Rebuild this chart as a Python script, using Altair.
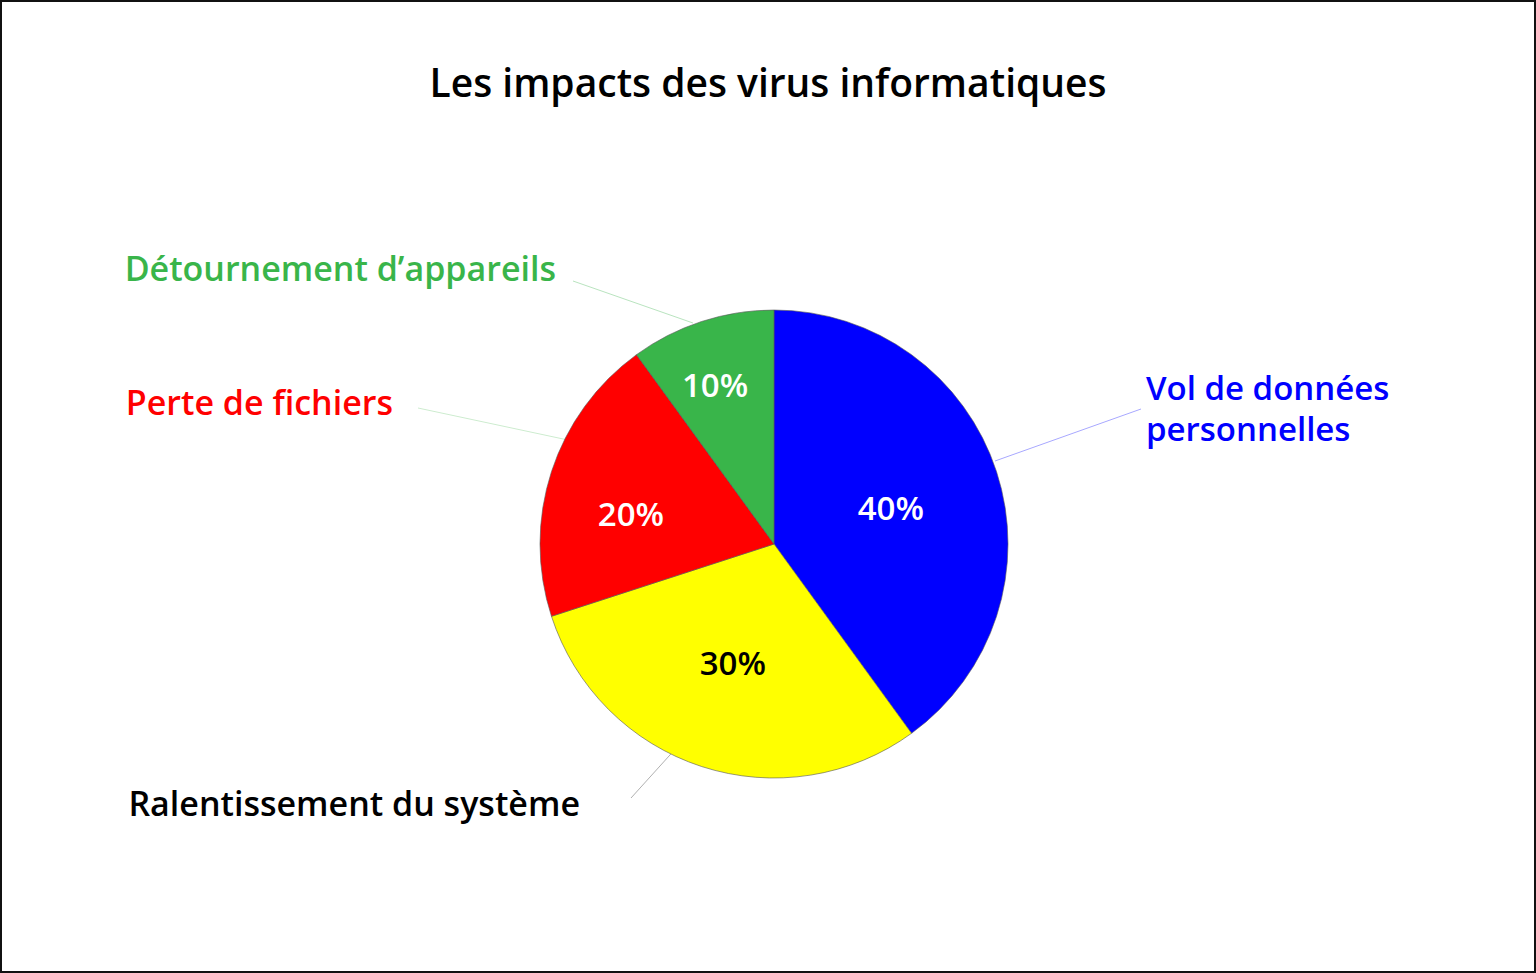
import altair as alt
import pandas as pd

# ---- data ----
categories = ["Vol de données personnelles", "Ralentissement du système",
              "Perte de fichiers", "Détournement d’appareils"]
values = [40, 30, 20, 10]
pct_labels = ["40%", "30%", "20%", "10%"]

# ---- styles / layout ----
slice_colors = ["#0000FF", "#FFFF00", "#FF0000", "#39B54A"]
pct_colors = ["#FFFFFF", "#000000", "#FFFFFF", "#FFFFFF"]
pct_radius = [122, 127, 146, 169]          # label distance from centre (px)
pct_nudge_deg = [1.3, 0.9, -6.5, -2.4]     # small angular nudges of the labels
FONT = "Open Sans"
CX, CY, R = 774, 544, 234

df = pd.DataFrame({
    "category": categories,
    "value": values,
    "order": list(range(len(values))),
    "pct": pct_labels,
    "pct_color": pct_colors,
    "lr": pct_radius,
    "nudge": pct_nudge_deg,
})

# outside labels (layout)
left_labels = pd.DataFrame({
    "text": ["Détournement d’appareils", "Perte de fichiers", "Ralentissement du système"],
    "x": [556, 393, 580],
    "y": [271, 405, 806],
    "color": ["#39B54A", "#FF0000", "#000000"],
})
right_labels = pd.DataFrame({
    "text": [["Vol de données", "personnelles"]],
    "x": [1146],
    "y": [390],
    "color": ["#0000FF"],
})
leaders = pd.DataFrame({
    "x": [573, 418, 1141, 631],
    "y": [281, 408, 409, 798],
    "x2": [693, 582, 995, 698],
    "y2": [323, 443, 461, 724],
    "color": ["#b9e4bf", "#cdeccf", "#a8a8ff", "#b0b0b0"],
})

arcs = alt.Chart(df).mark_arc(outerRadius=R, stroke="#555555", strokeWidth=0.6).encode(
    theta=alt.Theta("value:Q", stack=True),
    order=alt.Order("order:Q"),
    x=alt.value(CX),
    y=alt.value(CY),
    color=alt.Color("category:N", scale=alt.Scale(domain=categories, range=slice_colors), legend=None),
)

pcts = alt.Chart(df).transform_window(
    cum="sum(value)", sort=[alt.SortField("order")]
).transform_joinaggregate(
    total="sum(value)"
).transform_calculate(
    mid="(datum.cum - datum.value / 2) / datum.total + datum.nudge / 360"
).mark_text(font=FONT, fontSize=33, fontWeight=600, baseline="middle", align="center", dy=1).encode(
    theta=alt.Theta("mid:Q", stack=False, scale=alt.Scale(domain=[0, 1], range=[0, 6.283185307179586])),
    radius=alt.Radius("lr:Q", scale=None),
    x=alt.value(CX),
    y=alt.value(CY),
    text="pct:N",
    color=alt.Color("pct_color:N", scale=None),
)

rules = alt.Chart(leaders).mark_rule(strokeWidth=1).encode(
    x=alt.X("x:Q", scale=None), y=alt.Y("y:Q", scale=None),
    x2="x2:Q", y2="y2:Q",
    color=alt.Color("color:N", scale=None),
)

ltext = alt.Chart(left_labels).mark_text(font=FONT, fontSize=34, fontWeight=600, align="right", baseline="middle").encode(
    x=alt.X("x:Q", scale=None), y=alt.Y("y:Q", scale=None),
    text="text:N", color=alt.Color("color:N", scale=None),
)
rtext = alt.Chart(right_labels).mark_text(font=FONT, fontSize=33, fontWeight=600, align="left",
                                          baseline="middle", lineHeight=41).encode(
    x=alt.X("x:Q", scale=None), y=alt.Y("y:Q", scale=None),
    text="text", color=alt.Color("color:N", scale=None),
)

frame = alt.Chart(pd.DataFrame({"f": [0]})).mark_rect(
    fill=None, stroke="#111111", strokeWidth=4
).encode(x=alt.value(0), x2=alt.value(1536), y=alt.value(0), y2=alt.value(973))

chart = alt.layer(rules, arcs, pcts, ltext, rtext, frame).resolve_scale(
    theta="independent", radius="independent", color="independent"
).properties(
    width=1536, height=973,
    autosize=alt.AutoSizeParams(type="none"),
    padding=0,
    title=alt.TitleParams(
        "Les impacts des virus informatiques",
        font=FONT, fontSize=39, fontWeight=600, color="#000000",
        anchor="middle", baseline="alphabetic", offset=-138,
    ),
).configure_view(stroke=None).configure(background="white")

chart.save("out.html", embed_options={"renderer": "svg", "actions": False})
